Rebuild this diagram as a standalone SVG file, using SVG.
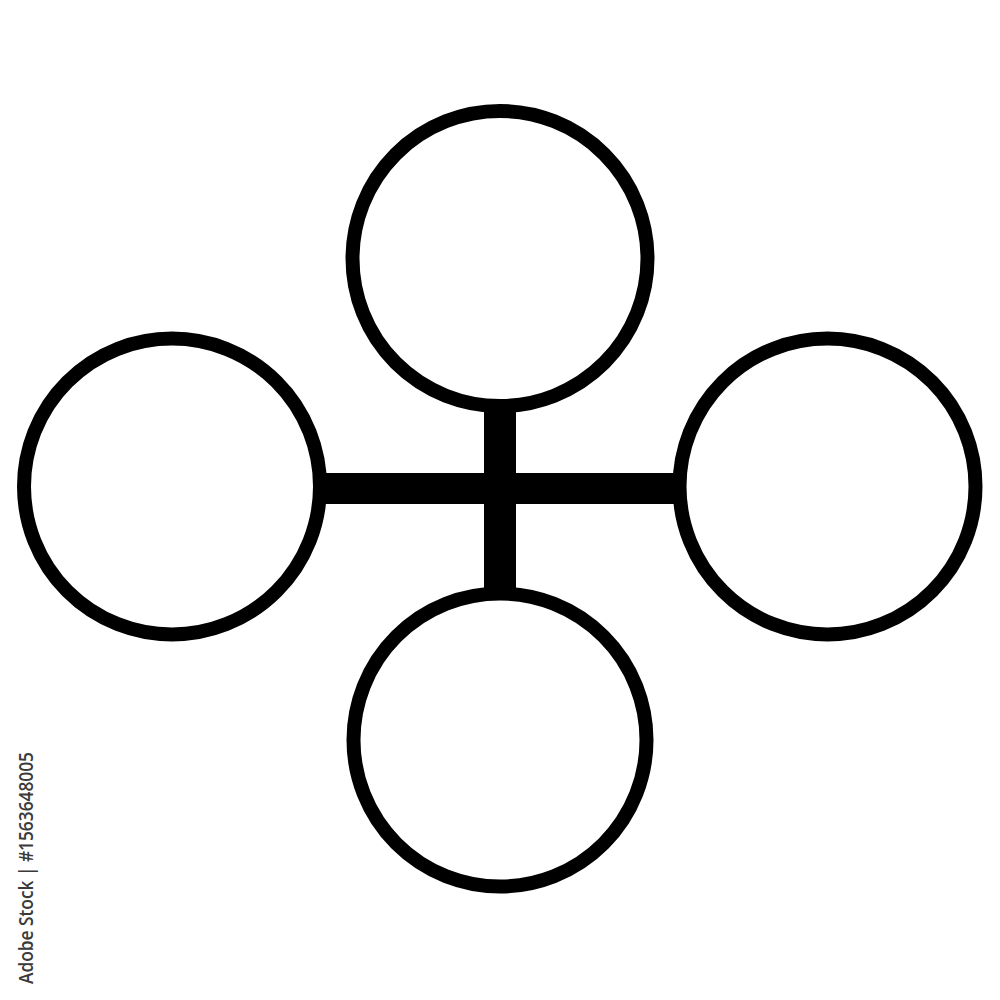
<svg xmlns="http://www.w3.org/2000/svg" width="1000" height="1000" viewBox="0 0 1000 1000">
  <style>
    .ring { fill: #ffffff; stroke: #000000; stroke-width: 14; }
    .bar { fill: #000000; }
    .wm { font-family: "Open Sans", "Liberation Sans", sans-serif; font-size: 20px; font-weight: 600; fill: #3a3a3a; }
  </style>
  <rect width="1000" height="1000" fill="#ffffff"/>
  <g id="connectors">
    <rect class="bar" x="316" y="473" width="368" height="31"/>
    <rect class="bar" x="484" y="400" width="32" height="200"/>
  </g>
  <g id="node-top">
    <circle class="ring" cx="500" cy="258.5" r="147.5"/>
  </g>
  <g id="node-bottom">
    <circle class="ring" cx="500" cy="740" r="146.5"/>
  </g>
  <g id="node-left">
    <circle class="ring" cx="172" cy="486.5" r="148"/>
  </g>
  <g id="node-right">
    <circle class="ring" cx="827.5" cy="486.5" r="148"/>
  </g>
  <text class="wm" transform="translate(33,984) rotate(-90)" x="0" y="0" textLength="232" lengthAdjust="spacingAndGlyphs">Adobe Stock | #1563648005</text>
</svg>
